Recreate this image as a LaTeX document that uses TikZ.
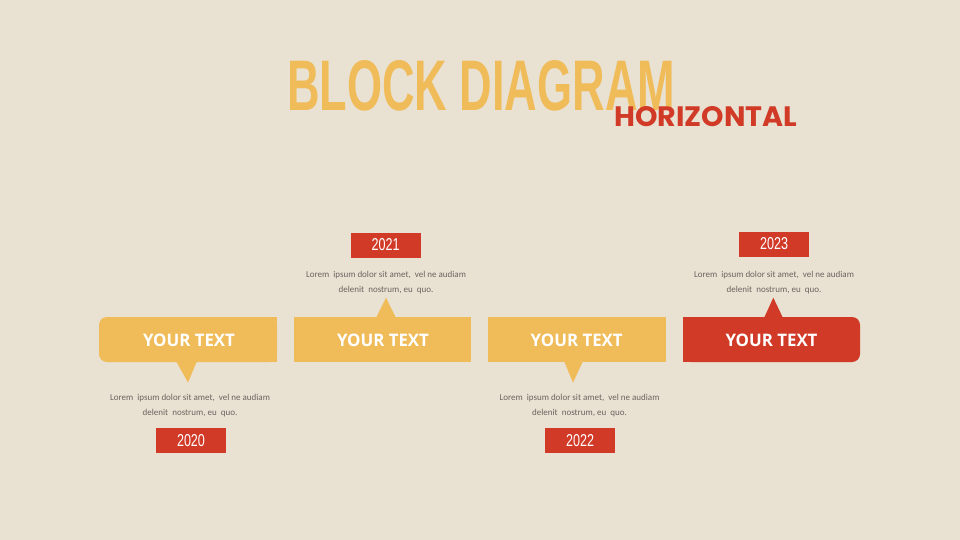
\documentclass[tikz,border=0pt]{standalone}
\usepackage{fontspec}
\setmainfont{Carlito}
\newfontfamily\titlefont{Liberation Sans}
\newfontfamily\yourfont{Open Sans}
\newfontfamily\horfont{Poppins}
\definecolor{bg}{HTML}{E9E1D1}
\definecolor{yel}{HTML}{F0BC5A}
\definecolor{rd}{HTML}{D03A27}
\definecolor{gtext}{HTML}{6A6460}
\tikzset{
  lorem/.style={inner sep=0pt, anchor=base, text=gtext, font=\fontsize{9}{11}\selectfont},
  yourtxt/.style={inner sep=0pt, anchor=base, text=white},
  yearbox/.style={fill=rd, minimum width=70pt, minimum height=25pt, inner sep=0pt, text=white},
}
\newcommand{\yt}{\resizebox{92pt}{12.5pt}{\yourfont\bfseries YOUR TEXT}}
\newcommand{\yr}[1]{\resizebox{28pt}{12pt}{\titlefont #1}}
\begin{document}
\begin{tikzpicture}[x=1pt,y=-1pt]
\useasboundingbox (0,0) rectangle (960,540);
\fill[bg] (0,0) rectangle (960,540);
% title
\node[inner sep=0pt, anchor=base west, text=yel] (title) at (287,111)
  {\resizebox{388pt}{50pt}{\titlefont\bfseries BLOCK DIAGRAM}};
\node[inner sep=0pt, anchor=base west, text=rd] (sub) at (614,126.5)
  {\resizebox{183pt}{20pt}{\horfont\bfseries HORIZONTAL}};
% box 1
\fill[yel, rounded corners=8pt] (99,317) rectangle (277,362);
\fill[yel] (200,317) rectangle (277,362);
\fill[yel] (176,361) -- (197,361) -- (188,382.5) -- cycle;
% box 2
\fill[yel] (294,317) rectangle (471,362);
\fill[yel] (376,318) -- (396,318) -- (386,297.7) -- cycle;
% box 3
\fill[yel] (488,317) rectangle (666,362);
\fill[yel] (564,361) -- (583,361) -- (573,382.7) -- cycle;
% box 4
\fill[rd, rounded corners=8pt] (683,317) rectangle (860,362);
\fill[rd] (683,317) rectangle (780,362);
\fill[rd] (764,318) -- (783,318) -- (773.3,297.7) -- cycle;
% box texts
\node[yourtxt] (t1) at (189,346.7) {\yt};
\node[yourtxt] (t2) at (383,346.7) {\yt};
\node[yourtxt] (t3) at (576.7,346.7) {\yt};
\node[yourtxt] (t4) at (771.5,346.7) {\yt};
% lorem texts
\node[lorem] (l1a) at (190,400.5) {Lorem\ \ ipsum dolor sit amet,\ \ vel ne audiam};
\node[lorem] (l1b) at (190,415.5) {delenit\ \ nostrum, eu\ \ quo.};
\node[lorem] (l3a) at (579.5,400.5) {Lorem\ \ ipsum dolor sit amet,\ \ vel ne audiam};
\node[lorem] (l3b) at (579.5,415.5) {delenit\ \ nostrum, eu\ \ quo.};
\node[lorem] (l2a) at (386,277.5) {Lorem\ \ ipsum dolor sit amet,\ \ vel ne audiam};
\node[lorem] (l2b) at (386,292.5) {delenit\ \ nostrum, eu\ \ quo.};
\node[lorem] (l4a) at (774,277.5) {Lorem\ \ ipsum dolor sit amet,\ \ vel ne audiam};
\node[lorem] (l4b) at (774,292.5) {delenit\ \ nostrum, eu\ \ quo.};
% year boxes
\node[yearbox] (y1) at (191,440.5) {};
\node[inner sep=0pt, text=white] (y1t) at (y1.center) {\yr{2020}};
\node[yearbox] (y2) at (385.5,245) {};
\node[inner sep=0pt, text=white] (y2t) at (y2.center) {\yr{2021}};
\node[yearbox] (y3) at (580,440.5) {};
\node[inner sep=0pt, text=white] (y3t) at (y3.center) {\yr{2022}};
\node[yearbox] (y4) at (774,244) {};
\node[inner sep=0pt, text=white] (y4t) at (y4.center) {\yr{2023}};
\end{tikzpicture}
\end{document}
